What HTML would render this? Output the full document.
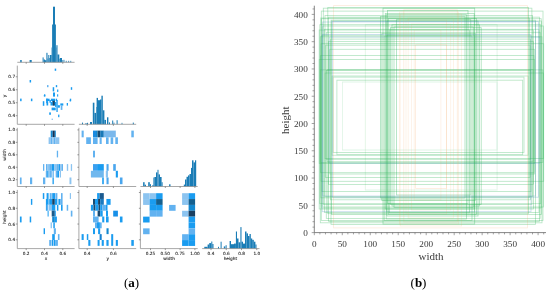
<!DOCTYPE html>
<html><head><meta charset="utf-8"><style>
html,body{margin:0;padding:0;background:#fff;width:550px;height:291px;overflow:hidden}
svg{display:block}
.tl{font-family:"DejaVu Sans","Liberation Sans",sans-serif;font-size:4.25px;fill:#1e1e1e;stroke:#1e1e1e;stroke-width:0.1px}
.rt{font-family:"Liberation Serif",serif;font-size:9.2px;fill:#3a3a3a}
.rl{font-family:"Liberation Serif",serif;font-size:11px;fill:#3a3a3a}
.cap{font-family:"Liberation Serif",serif;font-size:13px;fill:#000}
</style></head><body>
<svg width="550" height="291" viewBox="0 0 550 291">
<defs><filter id="bl" x="-5%" y="-5%" width="110%" height="110%"><feGaussianBlur stdDeviation="0.35"/></filter></defs>
<rect x="143.1" y="193.2" width="6.5" height="5.86" fill="#8cc4f0"/>
<rect x="149.6" y="193.2" width="6.5" height="5.86" fill="#8cc4f0"/>
<rect x="156.1" y="193.2" width="6.5" height="5.86" fill="#1a9cf0"/>
<rect x="143.1" y="199.06" width="6.5" height="5.86" fill="#8cc4f0"/>
<rect x="149.6" y="199.06" width="6.5" height="5.86" fill="#1a9cf0"/>
<rect x="156.1" y="199.06" width="6.5" height="5.86" fill="#14608f"/>
<rect x="149.6" y="204.92" width="6.5" height="5.86" fill="#1a9cf0"/>
<rect x="156.1" y="204.92" width="6.5" height="5.86" fill="#1a9cf0"/>
<rect x="149.6" y="210.78" width="6.5" height="5.86" fill="#62b2f0"/>
<rect x="156.1" y="210.78" width="6.5" height="5.86" fill="#62b2f0"/>
<rect x="143.1" y="216.64" width="6.5" height="5.86" fill="#1a9cf0"/>
<rect x="143.1" y="228.36" width="6.5" height="5.86" fill="#62b2f0"/>
<rect x="169.1" y="204.92" width="6.5" height="5.86" fill="#62b2f0"/>
<rect x="182.1" y="193.2" width="6.5" height="5.86" fill="#8cc4f0"/>
<rect x="182.1" y="199.06" width="6.5" height="5.86" fill="#8cc4f0"/>
<rect x="182.1" y="210.78" width="6.5" height="5.86" fill="#8cc4f0"/>
<rect x="182.1" y="234.22" width="6.5" height="5.86" fill="#62b2f0"/>
<rect x="182.1" y="240.08" width="6.5" height="5.86" fill="#1a9cf0"/>
<rect x="188.6" y="193.2" width="6.5" height="5.86" fill="#1a9cf0"/>
<rect x="188.6" y="199.06" width="6.5" height="5.86" fill="#14608f"/>
<rect x="188.6" y="204.92" width="6.5" height="5.86" fill="#1288d0"/>
<rect x="188.6" y="210.78" width="6.5" height="5.86" fill="#1a3f60"/>
<rect x="188.6" y="216.64" width="6.5" height="5.86" fill="#1a9cf0"/>
<rect x="188.6" y="222.5" width="6.5" height="5.86" fill="#1a9cf0"/>
<rect x="188.6" y="228.36" width="6.5" height="5.86" fill="#62b2f0"/>
<rect x="188.6" y="234.22" width="6.5" height="5.86" fill="#1a9cf0"/>
<rect x="188.6" y="240.08" width="6.5" height="5.86" fill="#1a9cf0"/>
<rect x="29.6" y="80" width="1.5" height="2.5" fill="#1a9cf0"/>
<rect x="54.7" y="68.6" width="1.5" height="2.2" fill="#1a9cf0"/>
<rect x="47" y="85.1" width="1.5" height="2.1" fill="#62b2f0"/>
<rect x="55.8" y="85.1" width="1.4" height="2.1" fill="#1a9cf0"/>
<rect x="52.7" y="87.2" width="1.5" height="4.2" fill="#1a9cf0"/>
<rect x="57.1" y="89.5" width="1.2" height="2.4" fill="#1a9cf0"/>
<rect x="70.8" y="87.2" width="1.4" height="2.6" fill="#1a9cf0"/>
<rect x="44.1" y="94.2" width="1.2" height="2.2" fill="#1a9cf0"/>
<rect x="53" y="92.5" width="2" height="4.1" fill="#1a9cf0"/>
<rect x="57.1" y="94.3" width="1.1" height="2.3" fill="#1a9cf0"/>
<rect x="20.1" y="98.6" width="1.5" height="2.6" fill="#1a9cf0"/>
<rect x="30.9" y="98.6" width="1.5" height="2.6" fill="#1a9cf0"/>
<rect x="42.8" y="101.2" width="1.5" height="4.6" fill="#1a9cf0"/>
<rect x="46.1" y="98.7" width="3.5" height="2.3" fill="#1a9cf0"/>
<rect x="50.9" y="98.7" width="4.1" height="2.3" fill="#1a9cf0"/>
<rect x="55.7" y="98.7" width="1.4" height="2.5" fill="#1a9cf0"/>
<rect x="69.8" y="98.7" width="1.4" height="2.5" fill="#1a9cf0"/>
<rect x="46.5" y="101.2" width="1.7" height="4.3" fill="#1a9cf0"/>
<rect x="49.4" y="100" width="1.5" height="2.7" fill="#1a9cf0"/>
<rect x="50.5" y="102" width="1.7" height="3.5" fill="#1a9cf0"/>
<rect x="52.2" y="100" width="2.8" height="5.5" fill="#1288d0"/>
<rect x="52.8" y="101" width="1.8" height="4.5" fill="#1a3f60"/>
<rect x="55" y="102" width="1.4" height="4.9" fill="#1a9cf0"/>
<rect x="56.4" y="100" width="1.3" height="12" fill="#1a9cf0"/>
<rect x="57.7" y="105.2" width="2.2" height="2.5" fill="#1a9cf0"/>
<rect x="60.3" y="103.4" width="3" height="2.2" fill="#1a9cf0"/>
<rect x="60.7" y="105.6" width="1.7" height="4.3" fill="#62b2f0"/>
<rect x="66.7" y="103" width="1.3" height="2.6" fill="#1a9cf0"/>
<rect x="69.7" y="100" width="1.3" height="1.3" fill="#1a9cf0"/>
<rect x="51.6" y="107.6" width="4.1" height="2.7" fill="#1a9cf0"/>
<rect x="49.2" y="112.4" width="1.7" height="2.4" fill="#1a9cf0"/>
<rect x="58.1" y="114.6" width="1.3" height="2.6" fill="#1a9cf0"/>
<rect x="51.6" y="118.6" width="1.3" height="1.4" fill="#8cc4f0"/>
<rect x="43.8" y="95" width="1.5" height="1.5" fill="#1a9cf0"/>
<rect x="46.2" y="98.6" width="1.5" height="4.6" fill="#1a9cf0"/>
<rect x="50.7" y="130.6" width="2" height="6.7" fill="#1288d0"/>
<rect x="52.7" y="130.6" width="2.1" height="6.7" fill="#18304e"/>
<rect x="54.8" y="130.6" width="1" height="6.7" fill="#1288d0"/>
<rect x="48.6" y="137.3" width="2.1" height="6.7" fill="#8cc4f0"/>
<rect x="50.7" y="137.3" width="1.7" height="6.7" fill="#62b2f0"/>
<rect x="52.4" y="137.3" width="1.2" height="6.7" fill="#8cc4f0"/>
<rect x="53.6" y="137.3" width="2" height="6.7" fill="#62b2f0"/>
<rect x="55.6" y="137.3" width="3.7" height="6.7" fill="#8cc4f0"/>
<rect x="56.8" y="150.7" width="1.3" height="6.7" fill="#62b2f0"/>
<rect x="43" y="164.1" width="1.3" height="6.7" fill="#62b2f0"/>
<rect x="46" y="164.1" width="1.6" height="6.7" fill="#62b2f0"/>
<rect x="47.6" y="164.1" width="1.6" height="6.7" fill="#8cc4f0"/>
<rect x="49.2" y="164.1" width="2.6" height="6.7" fill="#62b2f0"/>
<rect x="51.8" y="164.1" width="2.6" height="6.7" fill="#1a9cf0"/>
<rect x="54.4" y="164.1" width="2.6" height="6.7" fill="#8cc4f0"/>
<rect x="57" y="164.1" width="1.6" height="6.7" fill="#62b2f0"/>
<rect x="58.6" y="164.1" width="1.6" height="6.7" fill="#1a9cf0"/>
<rect x="60.2" y="164.1" width="1.2" height="6.7" fill="#8cc4f0"/>
<rect x="61.4" y="164.1" width="1.6" height="6.7" fill="#62b2f0"/>
<rect x="66.8" y="164.1" width="1.4" height="6.7" fill="#8cc4f0"/>
<rect x="70.8" y="164.1" width="1.3" height="6.7" fill="#8cc4f0"/>
<rect x="45.8" y="170.8" width="1.4" height="6.7" fill="#62b2f0"/>
<rect x="47.2" y="170.8" width="1.4" height="6.7" fill="#1a9cf0"/>
<rect x="48.6" y="170.8" width="1.3" height="6.7" fill="#8cc4f0"/>
<rect x="49.9" y="170.8" width="1.9" height="6.7" fill="#62b2f0"/>
<rect x="52.5" y="170.8" width="1.3" height="6.7" fill="#62b2f0"/>
<rect x="55.7" y="170.8" width="1.5" height="6.7" fill="#62b2f0"/>
<rect x="57.2" y="170.8" width="1.8" height="6.7" fill="#1a9cf0"/>
<rect x="59.7" y="170.8" width="1.3" height="6.7" fill="#8cc4f0"/>
<rect x="19.9" y="177.5" width="1.7" height="6.7" fill="#62b2f0"/>
<rect x="30" y="177.5" width="2.2" height="6.7" fill="#62b2f0"/>
<rect x="43" y="177.5" width="2.3" height="6.7" fill="#62b2f0"/>
<rect x="52.5" y="177.5" width="1.3" height="6.7" fill="#1a9cf0"/>
<rect x="69.5" y="177.5" width="1.9" height="6.7" fill="#8cc4f0"/>
<rect x="81.6" y="130.6" width="2.1" height="6.7" fill="#62b2f0"/>
<rect x="93" y="130.6" width="3" height="6.7" fill="#1a8ae0"/>
<rect x="96" y="130.6" width="1.6" height="6.7" fill="#1288d0"/>
<rect x="97.6" y="130.6" width="2.6" height="6.7" fill="#184a70"/>
<rect x="100.2" y="130.6" width="3.6" height="6.7" fill="#1878b8"/>
<rect x="103.8" y="130.6" width="12" height="6.7" fill="#7ab8ec"/>
<rect x="131.3" y="130.6" width="2.5" height="6.7" fill="#62b2f0"/>
<rect x="86.2" y="137.3" width="4.7" height="6.7" fill="#62b2f0"/>
<rect x="93" y="137.3" width="4.6" height="6.7" fill="#62b2f0"/>
<rect x="99.6" y="137.3" width="2.1" height="6.7" fill="#62b2f0"/>
<rect x="106" y="137.3" width="2.6" height="6.7" fill="#62b2f0"/>
<rect x="110.6" y="137.3" width="2.6" height="6.7" fill="#62b2f0"/>
<rect x="115.3" y="137.3" width="2.6" height="6.7" fill="#62b2f0"/>
<rect x="93" y="150.7" width="2" height="6.7" fill="#62b2f0"/>
<rect x="93" y="164.1" width="4.1" height="6.7" fill="#3aa0f0"/>
<rect x="97.1" y="164.1" width="6.7" height="6.7" fill="#1a9cf0"/>
<rect x="106.5" y="164.1" width="2.1" height="6.7" fill="#4aa6ee"/>
<rect x="113.2" y="164.1" width="2.6" height="6.7" fill="#4aa6ee"/>
<rect x="90.9" y="170.8" width="12.9" height="6.7" fill="#70b8ee"/>
<rect x="105.8" y="170.8" width="2.2" height="6.7" fill="#8cc4f0"/>
<rect x="115.8" y="170.8" width="2.1" height="6.7" fill="#1a9cf0"/>
<rect x="102.2" y="177.5" width="1.6" height="6.7" fill="#1a9cf0"/>
<rect x="106.5" y="177.5" width="2.1" height="6.7" fill="#4aa6ee"/>
<rect x="119.9" y="177.5" width="2.6" height="6.7" fill="#4aa6ee"/>
<rect x="42.8" y="193.1" width="1.5" height="5.86" fill="#1a9cf0"/>
<rect x="30.9" y="198.96" width="1.4" height="5.86" fill="#1a9cf0"/>
<rect x="45.9" y="198.96" width="1.1" height="11.72" fill="#1a9cf0"/>
<rect x="19.9" y="216.54" width="1.7" height="5.86" fill="#1a9cf0"/>
<rect x="29.7" y="216.54" width="1.5" height="5.86" fill="#1a9cf0"/>
<rect x="43.6" y="228.26" width="1.4" height="5.86" fill="#1a9cf0"/>
<rect x="46.6" y="193.1" width="2" height="5.86" fill="#1a9cf0"/>
<rect x="49.7" y="193.1" width="2" height="5.86" fill="#62b2f0"/>
<rect x="52.2" y="193.1" width="1.8" height="5.86" fill="#1a9cf0"/>
<rect x="54" y="193.1" width="1.2" height="5.86" fill="#1a9cf0"/>
<rect x="55.2" y="193.1" width="0.8" height="5.86" fill="#8cc4f0"/>
<rect x="56" y="193.1" width="1.4" height="5.86" fill="#62b2f0"/>
<rect x="61" y="193.1" width="1.6" height="5.86" fill="#62b2f0"/>
<rect x="69.8" y="193.1" width="1.2" height="5.86" fill="#8cc4f0"/>
<rect x="46" y="198.96" width="2.6" height="5.86" fill="#1a9cf0"/>
<rect x="49.2" y="198.96" width="3" height="5.86" fill="#1a9cf0"/>
<rect x="52.2" y="198.96" width="2.6" height="5.86" fill="#1a4060"/>
<rect x="54.8" y="198.96" width="2.6" height="5.86" fill="#1a9cf0"/>
<rect x="58.4" y="198.96" width="2.1" height="5.86" fill="#1a9cf0"/>
<rect x="60.5" y="198.96" width="2.1" height="5.86" fill="#62b2f0"/>
<rect x="46.6" y="204.82" width="1.5" height="5.86" fill="#62b2f0"/>
<rect x="48.6" y="204.82" width="3.1" height="5.86" fill="#8cc4f0"/>
<rect x="51.7" y="204.82" width="3.6" height="5.86" fill="#1a9cf0"/>
<rect x="56.9" y="204.82" width="1.5" height="5.86" fill="#1a9cf0"/>
<rect x="61" y="204.82" width="1.6" height="5.86" fill="#1a9cf0"/>
<rect x="66.7" y="204.82" width="1.5" height="5.86" fill="#62b2f0"/>
<rect x="47.6" y="210.68" width="1" height="5.86" fill="#1a9cf0"/>
<rect x="51.7" y="210.68" width="3.1" height="5.86" fill="#1a5a8a"/>
<rect x="54.8" y="210.68" width="1" height="5.86" fill="#1a9cf0"/>
<rect x="70.8" y="210.68" width="1.6" height="5.86" fill="#62b2f0"/>
<rect x="52.2" y="216.54" width="2.6" height="5.86" fill="#1288d0"/>
<rect x="54.8" y="216.54" width="2.1" height="5.86" fill="#1a9cf0"/>
<rect x="50.7" y="222.4" width="1" height="5.86" fill="#62b2f0"/>
<rect x="53.3" y="222.4" width="1.5" height="5.86" fill="#1a9cf0"/>
<rect x="53.8" y="228.26" width="2.1" height="5.86" fill="#62b2f0"/>
<rect x="52.2" y="234.12" width="2.6" height="5.86" fill="#1a9cf0"/>
<rect x="57.9" y="234.12" width="1.6" height="5.86" fill="#62b2f0"/>
<rect x="49.2" y="239.98" width="2" height="5.86" fill="#62b2f0"/>
<rect x="51.7" y="239.98" width="1.6" height="5.86" fill="#1a9cf0"/>
<rect x="53.3" y="239.98" width="0.7" height="5.86" fill="#8cc4f0"/>
<rect x="54" y="239.98" width="1.6" height="5.86" fill="#1a9cf0"/>
<rect x="55.6" y="239.98" width="2.3" height="5.86" fill="#62b2f0"/>
<rect x="97.1" y="193.1" width="2.5" height="5.86" fill="#1a9cf0"/>
<rect x="99.6" y="193.1" width="4.2" height="5.86" fill="#1a5a90"/>
<rect x="93" y="198.96" width="2" height="5.86" fill="#1a4a70"/>
<rect x="95" y="198.96" width="3.1" height="5.86" fill="#1a9cf0"/>
<rect x="98.1" y="198.96" width="2.1" height="5.86" fill="#163a5a"/>
<rect x="100.2" y="198.96" width="3.6" height="5.86" fill="#1a7ac0"/>
<rect x="106.4" y="198.96" width="4.2" height="5.86" fill="#1a9cf0"/>
<rect x="90.9" y="204.82" width="2.6" height="5.86" fill="#1a9cf0"/>
<rect x="93.5" y="204.82" width="2" height="5.86" fill="#1a4a70"/>
<rect x="95.5" y="204.82" width="3.1" height="5.86" fill="#1a9cf0"/>
<rect x="98.6" y="204.82" width="1.6" height="5.86" fill="#1a4a70"/>
<rect x="100.2" y="204.82" width="2" height="5.86" fill="#1a9cf0"/>
<rect x="102.2" y="204.82" width="3.6" height="5.86" fill="#62b2f0"/>
<rect x="105.8" y="204.82" width="1.7" height="5.86" fill="#1a9cf0"/>
<rect x="93" y="210.68" width="2" height="5.86" fill="#62b2f0"/>
<rect x="97.6" y="210.68" width="2.6" height="5.86" fill="#1a4a70"/>
<rect x="100.2" y="210.68" width="2.5" height="5.86" fill="#1a9cf0"/>
<rect x="106" y="210.68" width="2" height="5.86" fill="#1a9cf0"/>
<rect x="113.2" y="210.68" width="4.7" height="5.86" fill="#1890e8"/>
<rect x="93" y="216.54" width="5.6" height="5.86" fill="#62b2f0"/>
<rect x="102.2" y="216.54" width="2.1" height="5.86" fill="#1a9cf0"/>
<rect x="106" y="216.54" width="2.6" height="5.86" fill="#1a9cf0"/>
<rect x="119.9" y="216.54" width="2.6" height="5.86" fill="#1a9cf0"/>
<rect x="95" y="222.4" width="6.7" height="5.86" fill="#62b2f0"/>
<rect x="97" y="222.4" width="2.6" height="5.86" fill="#1a9cf0"/>
<rect x="93" y="228.26" width="2" height="5.86" fill="#1a9cf0"/>
<rect x="98.1" y="228.26" width="2.1" height="5.86" fill="#1a9cf0"/>
<rect x="106.5" y="228.26" width="2.1" height="5.86" fill="#1288d0"/>
<rect x="81.6" y="234.12" width="2.1" height="5.86" fill="#1a9cf0"/>
<rect x="86.8" y="234.12" width="1.5" height="5.86" fill="#1a9cf0"/>
<rect x="99.6" y="234.12" width="2.1" height="5.86" fill="#1580d0"/>
<rect x="111.2" y="234.12" width="2" height="5.86" fill="#1a9cf0"/>
<rect x="88.3" y="239.98" width="2.1" height="5.86" fill="#1a9cf0"/>
<rect x="97.6" y="239.98" width="2" height="5.86" fill="#1a9cf0"/>
<rect x="101.7" y="239.98" width="2.1" height="5.86" fill="#1a9cf0"/>
<rect x="106.4" y="239.98" width="2.2" height="5.86" fill="#1a9cf0"/>
<rect x="111.2" y="239.98" width="2" height="5.86" fill="#1a9cf0"/>
<rect x="115.8" y="239.98" width="2.1" height="5.86" fill="#1a9cf0"/>
<rect x="131.3" y="239.98" width="2.5" height="5.86" fill="#1a9cf0"/>
<rect x="20.2" y="60" width="1.5" height="2.3" fill="#1a7db6"/>
<rect x="29.6" y="60" width="2.1" height="2.3" fill="#1a7db6"/>
<rect x="42.6" y="57.4" width="1" height="4.9" fill="#1a7db6"/>
<rect x="43.6" y="59.5" width="1.4" height="2.8" fill="#1a7db6"/>
<rect x="45" y="60.2" width="1.4" height="2.1" fill="#1a7db6"/>
<rect x="46.4" y="52.8" width="1.1" height="9.5" fill="#1a7db6"/>
<rect x="47.5" y="58.5" width="0.8" height="3.8" fill="#1a7db6"/>
<rect x="48.3" y="55" width="1" height="7.3" fill="#1a7db6"/>
<rect x="49.3" y="58" width="0.7" height="4.3" fill="#1a7db6"/>
<rect x="50" y="55" width="1.6" height="7.3" fill="#1a7db6"/>
<rect x="51.6" y="47.5" width="0.5" height="14.8" fill="#1a7db6"/>
<rect x="52.1" y="24.5" width="0.9" height="37.8" fill="#1a7db6"/>
<rect x="53" y="6.7" width="2" height="55.6" fill="#1a7db6"/>
<rect x="55" y="24.5" width="0.9" height="37.8" fill="#1a7db6"/>
<rect x="55.9" y="47.5" width="0.5" height="14.8" fill="#1a7db6"/>
<rect x="56.4" y="45.2" width="1.1" height="17.1" fill="#1a7db6"/>
<rect x="57.5" y="54.5" width="1.8" height="7.8" fill="#1a7db6"/>
<rect x="59.3" y="59" width="0.5" height="3.3" fill="#1a7db6"/>
<rect x="59.8" y="58" width="2.2" height="4.3" fill="#1a7db6"/>
<rect x="62" y="60" width="0.6" height="2.3" fill="#1a7db6"/>
<rect x="63.5" y="59.8" width="0.9" height="2.5" fill="#1a7db6"/>
<rect x="65.8" y="60.8" width="0.8" height="1.5" fill="#1a7db6"/>
<rect x="68.3" y="60.8" width="0.8" height="1.5" fill="#1a7db6"/>
<rect x="70.4" y="60.8" width="0.8" height="1.5" fill="#1a7db6"/>
<rect x="82" y="122.6" width="1" height="1.7" fill="#1a7db6"/>
<rect x="85.5" y="123" width="1" height="1.3" fill="#1a7db6"/>
<rect x="87" y="122.8" width="1" height="1.5" fill="#1a7db6"/>
<rect x="90" y="122" width="2" height="2.3" fill="#1a7db6"/>
<rect x="92.8" y="102.7" width="1.6" height="21.6" fill="#1a7db6"/>
<rect x="94.4" y="112.9" width="1.6" height="11.4" fill="#1a7db6"/>
<rect x="96" y="107" width="0.6" height="17.3" fill="#1a7db6"/>
<rect x="96.6" y="97.9" width="1.4" height="26.4" fill="#1a7db6"/>
<rect x="98" y="100.2" width="2" height="24.1" fill="#1a7db6"/>
<rect x="100" y="99.5" width="1.4" height="24.8" fill="#1a7db6"/>
<rect x="101.4" y="95.7" width="1.4" height="28.6" fill="#1a7db6"/>
<rect x="102.8" y="110.3" width="1.6" height="14" fill="#1a7db6"/>
<rect x="104.4" y="119.9" width="1.6" height="4.4" fill="#1a7db6"/>
<rect x="107" y="117.3" width="1.4" height="7" fill="#1a7db6"/>
<rect x="109" y="122.4" width="1" height="1.9" fill="#1a7db6"/>
<rect x="112.2" y="120.5" width="1" height="3.8" fill="#1a7db6"/>
<rect x="113.6" y="122.6" width="0.8" height="1.7" fill="#1a7db6"/>
<rect x="116.6" y="120.2" width="1" height="4.1" fill="#1a7db6"/>
<rect x="121.6" y="122.8" width="0.8" height="1.5" fill="#1a7db6"/>
<rect x="132.8" y="122.6" width="1" height="1.7" fill="#1a7db6"/>
<rect x="143.1" y="182.2" width="1.5" height="4.3" fill="#1a7db6"/>
<rect x="144.6" y="184.7" width="1.4" height="1.8" fill="#1a7db6"/>
<rect x="148.2" y="182.2" width="1.6" height="4.3" fill="#1a7db6"/>
<rect x="150" y="184.2" width="1" height="2.3" fill="#1a7db6"/>
<rect x="152.4" y="185" width="1" height="1.5" fill="#1a7db6"/>
<rect x="153.4" y="177.5" width="1" height="9" fill="#1a7db6"/>
<rect x="154.4" y="177" width="1.6" height="9.5" fill="#1a7db6"/>
<rect x="156" y="172.4" width="1.5" height="14.1" fill="#1a7db6"/>
<rect x="157.5" y="169.8" width="1" height="16.7" fill="#1a7db6"/>
<rect x="158.5" y="174.4" width="1.5" height="12.1" fill="#1a7db6"/>
<rect x="160" y="177" width="1.6" height="9.5" fill="#1a7db6"/>
<rect x="161.6" y="182.2" width="1" height="4.3" fill="#1a7db6"/>
<rect x="169.1" y="184.3" width="1.4" height="2.2" fill="#1a7db6"/>
<rect x="183.8" y="184.6" width="1.2" height="1.9" fill="#1a7db6"/>
<rect x="185" y="179.5" width="1.5" height="7" fill="#1a7db6"/>
<rect x="186.5" y="176.8" width="1.5" height="9.7" fill="#1a7db6"/>
<rect x="188" y="175.4" width="1.5" height="11.1" fill="#1a7db6"/>
<rect x="189.5" y="174" width="1.5" height="12.5" fill="#1a7db6"/>
<rect x="191" y="167.9" width="1" height="18.6" fill="#1a7db6"/>
<rect x="192" y="160.3" width="1.5" height="26.2" fill="#1a7db6"/>
<rect x="193.5" y="162.4" width="1.5" height="24.1" fill="#1a7db6"/>
<rect x="195" y="160.3" width="1.2" height="26.2" fill="#1a7db6"/>
<rect x="204.3" y="246.8" width="3.3" height="1.8" fill="#1a7db6"/>
<rect x="207.6" y="244.5" width="1.6" height="4.1" fill="#1a7db6"/>
<rect x="209.2" y="243.1" width="2.1" height="5.5" fill="#1a7db6"/>
<rect x="211.3" y="241.5" width="1" height="7.1" fill="#1a7db6"/>
<rect x="212.3" y="244" width="1.2" height="4.6" fill="#1a7db6"/>
<rect x="218" y="246.8" width="1" height="1.8" fill="#1a7db6"/>
<rect x="220.6" y="241.7" width="1" height="6.9" fill="#1a7db6"/>
<rect x="223.8" y="246.4" width="1.4" height="2.2" fill="#1a7db6"/>
<rect x="225.6" y="245.2" width="1" height="3.4" fill="#1a7db6"/>
<rect x="229.6" y="241" width="1.4" height="7.6" fill="#1a7db6"/>
<rect x="231" y="244.2" width="3" height="4.4" fill="#1a7db6"/>
<rect x="234" y="243.6" width="1.9" height="5" fill="#1a7db6"/>
<rect x="235.9" y="231.5" width="1.1" height="17.1" fill="#1a7db6"/>
<rect x="237" y="238.5" width="1.5" height="10.1" fill="#1a7db6"/>
<rect x="238.5" y="242.3" width="1.9" height="6.3" fill="#1a7db6"/>
<rect x="240.4" y="227.1" width="1.1" height="21.5" fill="#1a7db6"/>
<rect x="241.5" y="241.7" width="1.5" height="6.9" fill="#1a7db6"/>
<rect x="243" y="243.6" width="2" height="5" fill="#1a7db6"/>
<rect x="245" y="231.5" width="1.5" height="17.1" fill="#1a7db6"/>
<rect x="246.5" y="233.4" width="1.5" height="15.2" fill="#1a7db6"/>
<rect x="248" y="236" width="1.5" height="12.6" fill="#1a7db6"/>
<rect x="249.5" y="234" width="1.3" height="14.6" fill="#1a7db6"/>
<rect x="250.8" y="238.5" width="1.4" height="10.1" fill="#1a7db6"/>
<rect x="252.2" y="239.8" width="1.6" height="8.8" fill="#1a7db6"/>
<rect x="253.8" y="241.7" width="1.6" height="6.9" fill="#1a7db6"/>
<rect x="255.4" y="244.5" width="1.1" height="4.1" fill="#1a7db6"/>
<line x1="17.3" y1="62.3" x2="74.6" y2="62.3" stroke="#929292" stroke-width="0.8"/>
<line x1="26.2" y1="62.3" x2="26.2" y2="63.8" stroke="#555" stroke-width="0.6"/>
<line x1="44.5" y1="62.3" x2="44.5" y2="63.8" stroke="#555" stroke-width="0.6"/>
<line x1="62.8" y1="62.3" x2="62.8" y2="63.8" stroke="#555" stroke-width="0.6"/>
<line x1="17.3" y1="65.6" x2="17.3" y2="124.3" stroke="#929292" stroke-width="0.8"/>
<line x1="17.3" y1="124.3" x2="74.6" y2="124.3" stroke="#929292" stroke-width="0.8"/>
<line x1="26.2" y1="124.3" x2="26.2" y2="125.8" stroke="#555" stroke-width="0.6"/>
<line x1="44.5" y1="124.3" x2="44.5" y2="125.8" stroke="#555" stroke-width="0.6"/>
<line x1="62.8" y1="124.3" x2="62.8" y2="125.8" stroke="#555" stroke-width="0.6"/>
<line x1="15.8" y1="115.7" x2="17.3" y2="115.7" stroke="#555" stroke-width="0.6"/>
<text x="15.1" y="117.2" class="tl" text-anchor="end">0.4</text>
<line x1="15.8" y1="102.73" x2="17.3" y2="102.73" stroke="#555" stroke-width="0.6"/>
<text x="15.1" y="104.23" class="tl" text-anchor="end">0.5</text>
<line x1="15.8" y1="89.76" x2="17.3" y2="89.76" stroke="#555" stroke-width="0.6"/>
<text x="15.1" y="91.26" class="tl" text-anchor="end">0.6</text>
<line x1="15.8" y1="76.79" x2="17.3" y2="76.79" stroke="#555" stroke-width="0.6"/>
<text x="15.1" y="78.29" class="tl" text-anchor="end">0.7</text>
<line x1="78.9" y1="124.3" x2="136.2" y2="124.3" stroke="#929292" stroke-width="0.8"/>
<line x1="87.2" y1="124.3" x2="87.2" y2="125.8" stroke="#555" stroke-width="0.6"/>
<line x1="113.4" y1="124.3" x2="113.4" y2="125.8" stroke="#555" stroke-width="0.6"/>
<line x1="17.3" y1="127.8" x2="17.3" y2="186.5" stroke="#929292" stroke-width="0.8"/>
<line x1="17.3" y1="186.5" x2="74.6" y2="186.5" stroke="#929292" stroke-width="0.8"/>
<line x1="26.2" y1="186.5" x2="26.2" y2="188" stroke="#555" stroke-width="0.6"/>
<line x1="44.5" y1="186.5" x2="44.5" y2="188" stroke="#555" stroke-width="0.6"/>
<line x1="62.8" y1="186.5" x2="62.8" y2="188" stroke="#555" stroke-width="0.6"/>
<line x1="15.8" y1="179.7" x2="17.3" y2="179.7" stroke="#555" stroke-width="0.6"/>
<text x="15.1" y="181.2" class="tl" text-anchor="end">0.2</text>
<line x1="15.8" y1="167.25" x2="17.3" y2="167.25" stroke="#555" stroke-width="0.6"/>
<text x="15.1" y="168.75" class="tl" text-anchor="end">0.4</text>
<line x1="15.8" y1="154.8" x2="17.3" y2="154.8" stroke="#555" stroke-width="0.6"/>
<text x="15.1" y="156.3" class="tl" text-anchor="end">0.6</text>
<line x1="15.8" y1="142.35" x2="17.3" y2="142.35" stroke="#555" stroke-width="0.6"/>
<text x="15.1" y="143.85" class="tl" text-anchor="end">0.8</text>
<line x1="15.8" y1="129.9" x2="17.3" y2="129.9" stroke="#555" stroke-width="0.6"/>
<text x="15.1" y="131.4" class="tl" text-anchor="end">1.0</text>
<line x1="78.9" y1="127.8" x2="78.9" y2="186.5" stroke="#929292" stroke-width="0.8"/>
<line x1="78.9" y1="186.5" x2="136.2" y2="186.5" stroke="#929292" stroke-width="0.8"/>
<line x1="87.2" y1="186.5" x2="87.2" y2="188" stroke="#555" stroke-width="0.6"/>
<line x1="113.4" y1="186.5" x2="113.4" y2="188" stroke="#555" stroke-width="0.6"/>
<line x1="77.4" y1="179.7" x2="78.9" y2="179.7" stroke="#555" stroke-width="0.6"/>
<line x1="77.4" y1="167.25" x2="78.9" y2="167.25" stroke="#555" stroke-width="0.6"/>
<line x1="77.4" y1="154.8" x2="78.9" y2="154.8" stroke="#555" stroke-width="0.6"/>
<line x1="77.4" y1="142.35" x2="78.9" y2="142.35" stroke="#555" stroke-width="0.6"/>
<line x1="77.4" y1="129.9" x2="78.9" y2="129.9" stroke="#555" stroke-width="0.6"/>
<line x1="140.4" y1="186.5" x2="197.7" y2="186.5" stroke="#929292" stroke-width="0.8"/>
<line x1="150.5" y1="186.5" x2="150.5" y2="188" stroke="#555" stroke-width="0.6"/>
<line x1="165.3" y1="186.5" x2="165.3" y2="188" stroke="#555" stroke-width="0.6"/>
<line x1="180.1" y1="186.5" x2="180.1" y2="188" stroke="#555" stroke-width="0.6"/>
<line x1="194.9" y1="186.5" x2="194.9" y2="188" stroke="#555" stroke-width="0.6"/>
<line x1="17.3" y1="189.9" x2="17.3" y2="248.6" stroke="#929292" stroke-width="0.8"/>
<line x1="17.3" y1="248.6" x2="74.6" y2="248.6" stroke="#929292" stroke-width="0.8"/>
<line x1="26.2" y1="248.6" x2="26.2" y2="250.1" stroke="#555" stroke-width="0.6"/>
<text x="26.2" y="255" class="tl" text-anchor="middle">0.2</text>
<line x1="44.5" y1="248.6" x2="44.5" y2="250.1" stroke="#555" stroke-width="0.6"/>
<text x="44.5" y="255" class="tl" text-anchor="middle">0.4</text>
<line x1="62.8" y1="248.6" x2="62.8" y2="250.1" stroke="#555" stroke-width="0.6"/>
<text x="62.8" y="255" class="tl" text-anchor="middle">0.6</text>
<line x1="15.8" y1="239.8" x2="17.3" y2="239.8" stroke="#555" stroke-width="0.6"/>
<text x="15.1" y="241.3" class="tl" text-anchor="end">0.4</text>
<line x1="15.8" y1="224.04" x2="17.3" y2="224.04" stroke="#555" stroke-width="0.6"/>
<text x="15.1" y="225.54" class="tl" text-anchor="end">0.6</text>
<line x1="15.8" y1="208.28" x2="17.3" y2="208.28" stroke="#555" stroke-width="0.6"/>
<text x="15.1" y="209.78" class="tl" text-anchor="end">0.8</text>
<line x1="15.8" y1="192.52" x2="17.3" y2="192.52" stroke="#555" stroke-width="0.6"/>
<text x="15.1" y="194.02" class="tl" text-anchor="end">1.0</text>
<line x1="78.9" y1="189.9" x2="78.9" y2="248.6" stroke="#929292" stroke-width="0.8"/>
<line x1="78.9" y1="248.6" x2="136.2" y2="248.6" stroke="#929292" stroke-width="0.8"/>
<line x1="87.2" y1="248.6" x2="87.2" y2="250.1" stroke="#555" stroke-width="0.6"/>
<text x="87.2" y="255" class="tl" text-anchor="middle">0.4</text>
<line x1="113.4" y1="248.6" x2="113.4" y2="250.1" stroke="#555" stroke-width="0.6"/>
<text x="113.4" y="255" class="tl" text-anchor="middle">0.6</text>
<line x1="77.4" y1="239.8" x2="78.9" y2="239.8" stroke="#555" stroke-width="0.6"/>
<line x1="77.4" y1="224.04" x2="78.9" y2="224.04" stroke="#555" stroke-width="0.6"/>
<line x1="77.4" y1="208.28" x2="78.9" y2="208.28" stroke="#555" stroke-width="0.6"/>
<line x1="77.4" y1="192.52" x2="78.9" y2="192.52" stroke="#555" stroke-width="0.6"/>
<line x1="140.4" y1="189.9" x2="140.4" y2="248.6" stroke="#929292" stroke-width="0.8"/>
<line x1="140.4" y1="248.6" x2="197.7" y2="248.6" stroke="#929292" stroke-width="0.8"/>
<line x1="150.5" y1="248.6" x2="150.5" y2="250.1" stroke="#555" stroke-width="0.6"/>
<text x="150.5" y="255" class="tl" text-anchor="middle">0.25</text>
<line x1="165.3" y1="248.6" x2="165.3" y2="250.1" stroke="#555" stroke-width="0.6"/>
<text x="165.3" y="255" class="tl" text-anchor="middle">0.50</text>
<line x1="180.1" y1="248.6" x2="180.1" y2="250.1" stroke="#555" stroke-width="0.6"/>
<text x="180.1" y="255" class="tl" text-anchor="middle">0.75</text>
<line x1="194.9" y1="248.6" x2="194.9" y2="250.1" stroke="#555" stroke-width="0.6"/>
<text x="194.9" y="255" class="tl" text-anchor="middle">1.00</text>
<line x1="138.9" y1="239.8" x2="140.4" y2="239.8" stroke="#555" stroke-width="0.6"/>
<line x1="138.9" y1="224.04" x2="140.4" y2="224.04" stroke="#555" stroke-width="0.6"/>
<line x1="138.9" y1="208.28" x2="140.4" y2="208.28" stroke="#555" stroke-width="0.6"/>
<line x1="138.9" y1="192.52" x2="140.4" y2="192.52" stroke="#555" stroke-width="0.6"/>
<line x1="202.2" y1="248.6" x2="259.5" y2="248.6" stroke="#929292" stroke-width="0.8"/>
<line x1="211" y1="248.6" x2="211" y2="250.1" stroke="#555" stroke-width="0.6"/>
<text x="211" y="255" class="tl" text-anchor="middle">0.4</text>
<line x1="226.26" y1="248.6" x2="226.26" y2="250.1" stroke="#555" stroke-width="0.6"/>
<text x="226.26" y="255" class="tl" text-anchor="middle">0.6</text>
<line x1="241.52" y1="248.6" x2="241.52" y2="250.1" stroke="#555" stroke-width="0.6"/>
<text x="241.52" y="255" class="tl" text-anchor="middle">0.8</text>
<line x1="256.78" y1="248.6" x2="256.78" y2="250.1" stroke="#555" stroke-width="0.6"/>
<text x="256.78" y="255" class="tl" text-anchor="middle">1.0</text>
<text x="46" y="260.3" class="tl" text-anchor="middle">x</text>
<text x="107.7" y="260.3" class="tl" text-anchor="middle">y</text>
<text x="169" y="260.3" class="tl" text-anchor="middle">width</text>
<text x="230.4" y="260.3" class="tl" text-anchor="middle">height</text>
<text transform="translate(6.3,96) rotate(-90)" class="tl" text-anchor="middle">y</text>
<text transform="translate(6.3,155) rotate(-90)" class="tl" text-anchor="middle">width</text>
<text transform="translate(6.3,217) rotate(-90)" class="tl" text-anchor="middle">height</text>
<g filter="url(#bl)">
<rect x="331" y="20.2" width="204.5" height="204.4" fill="none" stroke="#2fb45a" stroke-opacity="0.36" stroke-width="0.8"/>
<rect x="325" y="15.5" width="207.5" height="181.2" fill="none" stroke="#2fb45a" stroke-opacity="0.36" stroke-width="0.8"/>
<rect x="322.8" y="26" width="220.8" height="181" fill="none" stroke="#2fb45a" stroke-opacity="0.36" stroke-width="0.8"/>
<rect x="330.4" y="39.1" width="200.1" height="160.7" fill="none" stroke="#2fb45a" stroke-opacity="0.36" stroke-width="0.8"/>
<rect x="328.6" y="17.2" width="210.9" height="204.3" fill="none" stroke="#2fb45a" stroke-opacity="0.36" stroke-width="0.8"/>
<rect x="323.3" y="8.2" width="208.6" height="196.2" fill="none" stroke="#2fb45a" stroke-opacity="0.36" stroke-width="0.8"/>
<rect x="320.8" y="18" width="208.7" height="179.8" fill="none" stroke="#2fb45a" stroke-opacity="0.36" stroke-width="0.8"/>
<rect x="324.4" y="29.3" width="214.6" height="183.1" fill="none" stroke="#2fb45a" stroke-opacity="0.36" stroke-width="0.8"/>
<rect x="321.6" y="18.7" width="219.6" height="189.3" fill="none" stroke="#2fb45a" stroke-opacity="0.36" stroke-width="0.8"/>
<rect x="320.3" y="36.8" width="221.7" height="186" fill="none" stroke="#2fb45a" stroke-opacity="0.36" stroke-width="0.8"/>
<rect x="331.4" y="21" width="210.1" height="193.5" fill="none" stroke="#2fb45a" stroke-opacity="0.36" stroke-width="0.8"/>
<rect x="321.3" y="11.1" width="221.7" height="209.4" fill="none" stroke="#2fb45a" stroke-opacity="0.36" stroke-width="0.8"/>
<rect x="326.3" y="32.3" width="213.9" height="186.1" fill="none" stroke="#2fb45a" stroke-opacity="0.36" stroke-width="0.8"/>
<rect x="319.8" y="24.7" width="220.9" height="179" fill="none" stroke="#2fb45a" stroke-opacity="0.36" stroke-width="0.8"/>
<rect x="327.8" y="7.5" width="200.7" height="206.2" fill="none" stroke="#2fb45a" stroke-opacity="0.36" stroke-width="0.8"/>
<rect x="319.2" y="30" width="214.3" height="179" fill="none" stroke="#2fb45a" stroke-opacity="0.36" stroke-width="0.8"/>
<rect x="322" y="35.3" width="209" height="156.3" fill="none" stroke="#2fb45a" stroke-opacity="0.36" stroke-width="0.8"/>
<rect x="389.3" y="29.9" width="80.2" height="182.9" fill="none" stroke="#2fb45a" stroke-opacity="0.42" stroke-width="0.8"/>
<rect x="394" y="26.8" width="79.2" height="180.7" fill="none" stroke="#2fb45a" stroke-opacity="0.42" stroke-width="0.8"/>
<rect x="381.8" y="33.3" width="93.5" height="167.2" fill="none" stroke="#2fb45a" stroke-opacity="0.42" stroke-width="0.8"/>
<rect x="383" y="8.2" width="91.7" height="215.8" fill="none" stroke="#2fb45a" stroke-opacity="0.42" stroke-width="0.8"/>
<rect x="380.5" y="16.5" width="84.5" height="181.5" fill="none" stroke="#2fb45a" stroke-opacity="0.42" stroke-width="0.8"/>
<rect x="384.2" y="36" width="87.8" height="184.5" fill="none" stroke="#2fb45a" stroke-opacity="0.42" stroke-width="0.8"/>
<rect x="386.9" y="21" width="91.1" height="195" fill="none" stroke="#2fb45a" stroke-opacity="0.42" stroke-width="0.8"/>
<rect x="385.3" y="13.4" width="88.9" height="195.6" fill="none" stroke="#2fb45a" stroke-opacity="0.42" stroke-width="0.8"/>
<rect x="390.5" y="27.6" width="90.7" height="176.9" fill="none" stroke="#2fb45a" stroke-opacity="0.42" stroke-width="0.8"/>
<rect x="392" y="24.7" width="87.5" height="181.3" fill="none" stroke="#2fb45a" stroke-opacity="0.42" stroke-width="0.8"/>
<rect x="388.3" y="18.5" width="88.2" height="196" fill="none" stroke="#2fb45a" stroke-opacity="0.42" stroke-width="0.8"/>
<rect x="386.2" y="14.6" width="80.3" height="204.4" fill="none" stroke="#2fb45a" stroke-opacity="0.42" stroke-width="0.8"/>
<rect x="387.5" y="10.5" width="80.5" height="193" fill="none" stroke="#2fb45a" stroke-opacity="0.42" stroke-width="0.8"/>
<rect x="396.5" y="19.6" width="74.3" height="175.4" fill="none" stroke="#2fb45a" stroke-opacity="0.42" stroke-width="0.8"/>
<rect x="328.52" y="41.4" width="204.83" height="143" fill="none" stroke="#2fb45a" stroke-opacity="0.36" stroke-width="0.8"/>
<rect x="321.09" y="43.7" width="222.61" height="137.6" fill="none" stroke="#2fb45a" stroke-opacity="0.36" stroke-width="0.8"/>
<rect x="325.55" y="45.2" width="204.57" height="132.3" fill="none" stroke="#2fb45a" stroke-opacity="0.36" stroke-width="0.8"/>
<rect x="329.71" y="49.3" width="204.91" height="124.7" fill="none" stroke="#2fb45a" stroke-opacity="0.36" stroke-width="0.8"/>
<rect x="320.61" y="55.5" width="213.36" height="117.2" fill="none" stroke="#2fb45a" stroke-opacity="0.36" stroke-width="0.8"/>
<rect x="319.23" y="59.6" width="215.5" height="103.9" fill="none" stroke="#2fb45a" stroke-opacity="0.36" stroke-width="0.8"/>
<rect x="320.27" y="69.9" width="222.49" height="92.5" fill="none" stroke="#2fb45a" stroke-opacity="0.36" stroke-width="0.8"/>
<rect x="326.26" y="70.5" width="204.45" height="88.8" fill="none" stroke="#2fb45a" stroke-opacity="0.36" stroke-width="0.8"/>
<rect x="325.03" y="73" width="218.33" height="85.6" fill="none" stroke="#2fb45a" stroke-opacity="0.36" stroke-width="0.8"/>
<rect x="327.11" y="69.6" width="205.97" height="92.1" fill="none" stroke="#2fb45a" stroke-opacity="0.36" stroke-width="0.8"/>
<rect x="332" y="76" width="196.1" height="79.2" fill="none" stroke="#2fb45a" stroke-opacity="0.36" stroke-width="0.8"/>
<rect x="333.1" y="77.1" width="190.9" height="75.3" fill="none" stroke="#2fb45a" stroke-opacity="0.36" stroke-width="0.8"/>
<rect x="336.9" y="80.2" width="185.8" height="74.5" fill="none" stroke="#2fb45a" stroke-opacity="0.36" stroke-width="0.8"/>
<rect x="322.7" y="22" width="212.8" height="174" fill="none" stroke="#2a7ab8" stroke-opacity="0.28" stroke-width="0.8"/>
<rect x="322.2" y="34.5" width="208.8" height="177.2" fill="none" stroke="#2a7ab8" stroke-opacity="0.28" stroke-width="0.8"/>
<rect x="329.3" y="37.1" width="210.7" height="126.1" fill="none" stroke="#2a7ab8" stroke-opacity="0.28" stroke-width="0.8"/>
<rect x="332.4" y="21.5" width="206.1" height="175.7" fill="none" stroke="#2a7ab8" stroke-opacity="0.28" stroke-width="0.8"/>
<rect x="386.9" y="35" width="87.6" height="177" fill="none" stroke="#2fb45a" stroke-opacity="0.36" stroke-width="0.8"/>
<rect x="333.6" y="5.6" width="193.9" height="222.3" fill="none" stroke="#f39a4c" stroke-opacity="0.2" stroke-width="0.8"/>
<rect x="342.4" y="82" width="154.7" height="68" fill="none" stroke="#2fb45a" stroke-opacity="0.16" stroke-width="0.8"/>
<rect x="365.3" y="24.7" width="131.8" height="165.3" fill="none" stroke="#2fb45a" stroke-opacity="0.16" stroke-width="0.8"/>
<rect x="403.8" y="9.8" width="53.5" height="212.2" fill="none" stroke="#f39a4c" stroke-opacity="0.2" stroke-width="0.8"/>
<rect x="415.6" y="44.8" width="30.9" height="143.7" fill="none" stroke="#f39a4c" stroke-opacity="0.2" stroke-width="0.8"/>
<rect x="400.2" y="14" width="61.4" height="212" fill="none" stroke="#f39a4c" stroke-opacity="0.16" stroke-width="0.8"/>
<rect x="408.2" y="18" width="45.2" height="200" fill="none" stroke="#f39a4c" stroke-opacity="0.16" stroke-width="0.8"/>
<rect x="411.4" y="24" width="39.3" height="186" fill="none" stroke="#f39a4c" stroke-opacity="0.15" stroke-width="0.8"/>
<rect x="414.2" y="30" width="26.7" height="170" fill="none" stroke="#f39a4c" stroke-opacity="0.15" stroke-width="0.8"/>
<rect x="399.6" y="12" width="58.8" height="212" fill="none" stroke="#f39a4c" stroke-opacity="0.15" stroke-width="0.8"/>
<rect x="406" y="20" width="40.4" height="194" fill="none" stroke="#f39a4c" stroke-opacity="0.15" stroke-width="0.8"/>
</g>
<line x1="314.3" y1="5.7" x2="314.3" y2="232.6" stroke="#666" stroke-width="0.8"/>
<line x1="314.3" y1="232.6" x2="546" y2="232.6" stroke="#666" stroke-width="0.8"/>
<line x1="311.7" y1="232.6" x2="314.3" y2="232.6" stroke="#666" stroke-width="0.6"/>
<line x1="314.3" y1="232.6" x2="314.3" y2="235.2" stroke="#666" stroke-width="0.6"/>
<text x="307.8" y="235.9" class="rt" text-anchor="end">0</text>
<text x="314.3" y="246.5" class="rt" text-anchor="middle">0</text>
<line x1="312.5" y1="227.14" x2="314.3" y2="227.14" stroke="#666" stroke-width="0.6"/>
<line x1="319.9" y1="232.6" x2="319.9" y2="234.4" stroke="#666" stroke-width="0.6"/>
<line x1="312.5" y1="221.69" x2="314.3" y2="221.69" stroke="#666" stroke-width="0.6"/>
<line x1="325.49" y1="232.6" x2="325.49" y2="234.4" stroke="#666" stroke-width="0.6"/>
<line x1="312.5" y1="216.23" x2="314.3" y2="216.23" stroke="#666" stroke-width="0.6"/>
<line x1="331.09" y1="232.6" x2="331.09" y2="234.4" stroke="#666" stroke-width="0.6"/>
<line x1="312.5" y1="210.78" x2="314.3" y2="210.78" stroke="#666" stroke-width="0.6"/>
<line x1="336.68" y1="232.6" x2="336.68" y2="234.4" stroke="#666" stroke-width="0.6"/>
<line x1="311.7" y1="205.32" x2="314.3" y2="205.32" stroke="#666" stroke-width="0.6"/>
<line x1="342.28" y1="232.6" x2="342.28" y2="235.2" stroke="#666" stroke-width="0.6"/>
<text x="307.8" y="208.62" class="rt" text-anchor="end">50</text>
<text x="342.28" y="246.5" class="rt" text-anchor="middle">50</text>
<line x1="312.5" y1="199.87" x2="314.3" y2="199.87" stroke="#666" stroke-width="0.6"/>
<line x1="347.87" y1="232.6" x2="347.87" y2="234.4" stroke="#666" stroke-width="0.6"/>
<line x1="312.5" y1="194.41" x2="314.3" y2="194.41" stroke="#666" stroke-width="0.6"/>
<line x1="353.47" y1="232.6" x2="353.47" y2="234.4" stroke="#666" stroke-width="0.6"/>
<line x1="312.5" y1="188.96" x2="314.3" y2="188.96" stroke="#666" stroke-width="0.6"/>
<line x1="359.06" y1="232.6" x2="359.06" y2="234.4" stroke="#666" stroke-width="0.6"/>
<line x1="312.5" y1="183.5" x2="314.3" y2="183.5" stroke="#666" stroke-width="0.6"/>
<line x1="364.66" y1="232.6" x2="364.66" y2="234.4" stroke="#666" stroke-width="0.6"/>
<line x1="311.7" y1="178.05" x2="314.3" y2="178.05" stroke="#666" stroke-width="0.6"/>
<line x1="370.25" y1="232.6" x2="370.25" y2="235.2" stroke="#666" stroke-width="0.6"/>
<text x="307.8" y="181.35" class="rt" text-anchor="end">100</text>
<text x="370.25" y="246.5" class="rt" text-anchor="middle">100</text>
<line x1="312.5" y1="172.59" x2="314.3" y2="172.59" stroke="#666" stroke-width="0.6"/>
<line x1="375.85" y1="232.6" x2="375.85" y2="234.4" stroke="#666" stroke-width="0.6"/>
<line x1="312.5" y1="167.14" x2="314.3" y2="167.14" stroke="#666" stroke-width="0.6"/>
<line x1="381.44" y1="232.6" x2="381.44" y2="234.4" stroke="#666" stroke-width="0.6"/>
<line x1="312.5" y1="161.69" x2="314.3" y2="161.69" stroke="#666" stroke-width="0.6"/>
<line x1="387.04" y1="232.6" x2="387.04" y2="234.4" stroke="#666" stroke-width="0.6"/>
<line x1="312.5" y1="156.23" x2="314.3" y2="156.23" stroke="#666" stroke-width="0.6"/>
<line x1="392.63" y1="232.6" x2="392.63" y2="234.4" stroke="#666" stroke-width="0.6"/>
<line x1="311.7" y1="150.77" x2="314.3" y2="150.77" stroke="#666" stroke-width="0.6"/>
<line x1="398.23" y1="232.6" x2="398.23" y2="235.2" stroke="#666" stroke-width="0.6"/>
<text x="307.8" y="154.07" class="rt" text-anchor="end">150</text>
<text x="398.23" y="246.5" class="rt" text-anchor="middle">150</text>
<line x1="312.5" y1="145.32" x2="314.3" y2="145.32" stroke="#666" stroke-width="0.6"/>
<line x1="403.82" y1="232.6" x2="403.82" y2="234.4" stroke="#666" stroke-width="0.6"/>
<line x1="312.5" y1="139.87" x2="314.3" y2="139.87" stroke="#666" stroke-width="0.6"/>
<line x1="409.42" y1="232.6" x2="409.42" y2="234.4" stroke="#666" stroke-width="0.6"/>
<line x1="312.5" y1="134.41" x2="314.3" y2="134.41" stroke="#666" stroke-width="0.6"/>
<line x1="415.01" y1="232.6" x2="415.01" y2="234.4" stroke="#666" stroke-width="0.6"/>
<line x1="312.5" y1="128.95" x2="314.3" y2="128.95" stroke="#666" stroke-width="0.6"/>
<line x1="420.61" y1="232.6" x2="420.61" y2="234.4" stroke="#666" stroke-width="0.6"/>
<line x1="311.7" y1="123.5" x2="314.3" y2="123.5" stroke="#666" stroke-width="0.6"/>
<line x1="426.2" y1="232.6" x2="426.2" y2="235.2" stroke="#666" stroke-width="0.6"/>
<text x="307.8" y="126.8" class="rt" text-anchor="end">200</text>
<text x="426.2" y="246.5" class="rt" text-anchor="middle">200</text>
<line x1="312.5" y1="118.05" x2="314.3" y2="118.05" stroke="#666" stroke-width="0.6"/>
<line x1="431.8" y1="232.6" x2="431.8" y2="234.4" stroke="#666" stroke-width="0.6"/>
<line x1="312.5" y1="112.59" x2="314.3" y2="112.59" stroke="#666" stroke-width="0.6"/>
<line x1="437.39" y1="232.6" x2="437.39" y2="234.4" stroke="#666" stroke-width="0.6"/>
<line x1="312.5" y1="107.13" x2="314.3" y2="107.13" stroke="#666" stroke-width="0.6"/>
<line x1="442.99" y1="232.6" x2="442.99" y2="234.4" stroke="#666" stroke-width="0.6"/>
<line x1="312.5" y1="101.68" x2="314.3" y2="101.68" stroke="#666" stroke-width="0.6"/>
<line x1="448.58" y1="232.6" x2="448.58" y2="234.4" stroke="#666" stroke-width="0.6"/>
<line x1="311.7" y1="96.22" x2="314.3" y2="96.22" stroke="#666" stroke-width="0.6"/>
<line x1="454.18" y1="232.6" x2="454.18" y2="235.2" stroke="#666" stroke-width="0.6"/>
<text x="307.8" y="99.52" class="rt" text-anchor="end">250</text>
<text x="454.18" y="246.5" class="rt" text-anchor="middle">250</text>
<line x1="312.5" y1="90.77" x2="314.3" y2="90.77" stroke="#666" stroke-width="0.6"/>
<line x1="459.77" y1="232.6" x2="459.77" y2="234.4" stroke="#666" stroke-width="0.6"/>
<line x1="312.5" y1="85.31" x2="314.3" y2="85.31" stroke="#666" stroke-width="0.6"/>
<line x1="465.37" y1="232.6" x2="465.37" y2="234.4" stroke="#666" stroke-width="0.6"/>
<line x1="312.5" y1="79.86" x2="314.3" y2="79.86" stroke="#666" stroke-width="0.6"/>
<line x1="470.96" y1="232.6" x2="470.96" y2="234.4" stroke="#666" stroke-width="0.6"/>
<line x1="312.5" y1="74.41" x2="314.3" y2="74.41" stroke="#666" stroke-width="0.6"/>
<line x1="476.56" y1="232.6" x2="476.56" y2="234.4" stroke="#666" stroke-width="0.6"/>
<line x1="311.7" y1="68.95" x2="314.3" y2="68.95" stroke="#666" stroke-width="0.6"/>
<line x1="482.15" y1="232.6" x2="482.15" y2="235.2" stroke="#666" stroke-width="0.6"/>
<text x="307.8" y="72.25" class="rt" text-anchor="end">300</text>
<text x="482.15" y="246.5" class="rt" text-anchor="middle">300</text>
<line x1="312.5" y1="63.5" x2="314.3" y2="63.5" stroke="#666" stroke-width="0.6"/>
<line x1="487.75" y1="232.6" x2="487.75" y2="234.4" stroke="#666" stroke-width="0.6"/>
<line x1="312.5" y1="58.04" x2="314.3" y2="58.04" stroke="#666" stroke-width="0.6"/>
<line x1="493.34" y1="232.6" x2="493.34" y2="234.4" stroke="#666" stroke-width="0.6"/>
<line x1="312.5" y1="52.59" x2="314.3" y2="52.59" stroke="#666" stroke-width="0.6"/>
<line x1="498.94" y1="232.6" x2="498.94" y2="234.4" stroke="#666" stroke-width="0.6"/>
<line x1="312.5" y1="47.13" x2="314.3" y2="47.13" stroke="#666" stroke-width="0.6"/>
<line x1="504.53" y1="232.6" x2="504.53" y2="234.4" stroke="#666" stroke-width="0.6"/>
<line x1="311.7" y1="41.68" x2="314.3" y2="41.68" stroke="#666" stroke-width="0.6"/>
<line x1="510.12" y1="232.6" x2="510.12" y2="235.2" stroke="#666" stroke-width="0.6"/>
<text x="307.8" y="44.98" class="rt" text-anchor="end">350</text>
<text x="510.12" y="246.5" class="rt" text-anchor="middle">350</text>
<line x1="312.5" y1="36.22" x2="314.3" y2="36.22" stroke="#666" stroke-width="0.6"/>
<line x1="515.72" y1="232.6" x2="515.72" y2="234.4" stroke="#666" stroke-width="0.6"/>
<line x1="312.5" y1="30.76" x2="314.3" y2="30.76" stroke="#666" stroke-width="0.6"/>
<line x1="521.32" y1="232.6" x2="521.32" y2="234.4" stroke="#666" stroke-width="0.6"/>
<line x1="312.5" y1="25.31" x2="314.3" y2="25.31" stroke="#666" stroke-width="0.6"/>
<line x1="526.91" y1="232.6" x2="526.91" y2="234.4" stroke="#666" stroke-width="0.6"/>
<line x1="312.5" y1="19.85" x2="314.3" y2="19.85" stroke="#666" stroke-width="0.6"/>
<line x1="532.5" y1="232.6" x2="532.5" y2="234.4" stroke="#666" stroke-width="0.6"/>
<line x1="311.7" y1="14.4" x2="314.3" y2="14.4" stroke="#666" stroke-width="0.6"/>
<line x1="538.1" y1="232.6" x2="538.1" y2="235.2" stroke="#666" stroke-width="0.6"/>
<text x="307.8" y="17.7" class="rt" text-anchor="end">400</text>
<text x="538.1" y="246.5" class="rt" text-anchor="middle">400</text>
<line x1="312.5" y1="8.94" x2="314.3" y2="8.94" stroke="#666" stroke-width="0.6"/>
<line x1="543.7" y1="232.6" x2="543.7" y2="234.4" stroke="#666" stroke-width="0.6"/>
<text x="431" y="259.9" class="rl" text-anchor="middle">width</text>
<text transform="translate(289.4,120.2) rotate(-90)" class="rl" text-anchor="middle">height</text>
<text x="131.6" y="286.6" class="cap" text-anchor="middle">(<tspan font-weight="bold">a</tspan>)</text>
<text x="418.5" y="286.6" class="cap" text-anchor="middle">(<tspan font-weight="bold">b</tspan>)</text>
</svg>
</body></html>
